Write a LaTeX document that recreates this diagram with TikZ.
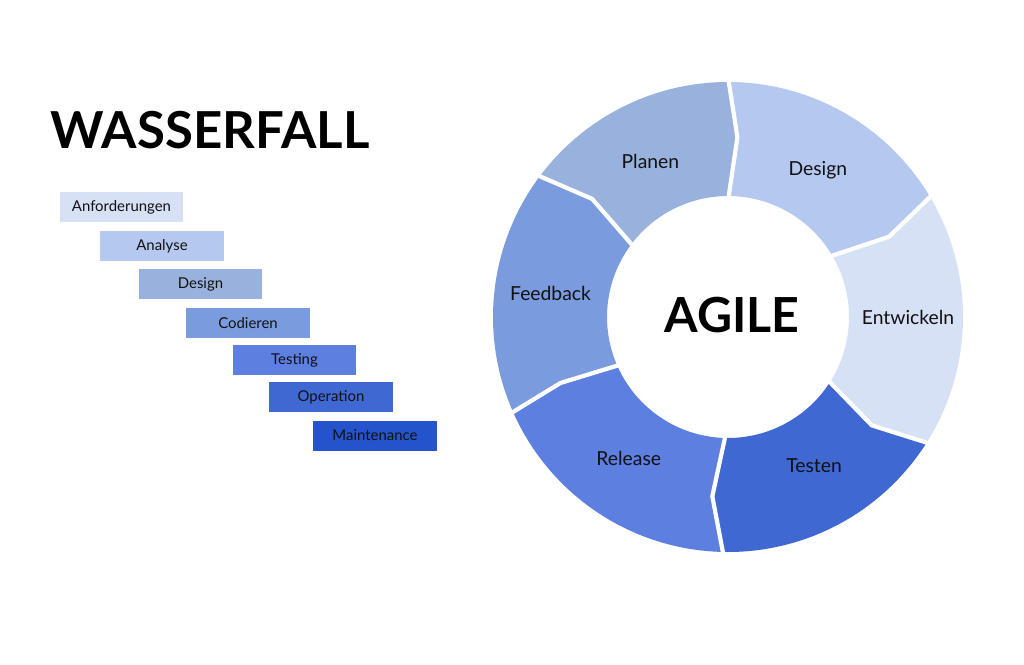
\documentclass[tikz,border=0pt]{standalone}
\usepackage{fontspec}
\setmainfont{Lato}
\definecolor{wfA}{HTML}{D6E1F6}
\definecolor{wfB}{HTML}{B4C8F0}
\definecolor{wfC}{HTML}{98B2DD}
\definecolor{wfD}{HTML}{7B9BDF}
\definecolor{wfE}{HTML}{5C7FE0}
\definecolor{wfF}{HTML}{3F68D3}
\definecolor{wfG}{HTML}{2453CC}
\definecolor{ink}{HTML}{111111}
\begin{document}
\begin{tikzpicture}[x=0.02cm,y=0.02cm,
  stage/.style={minimum width=2.47cm,minimum height=0.6cm,inner sep=0pt,text=ink,font=\fontsize{8.5}{10}\selectfont},
  phase/.style={text=ink,font=\fontsize{11}{13}\selectfont},
  gap/.style={white,line width=2.4pt,line join=miter}]
\useasboundingbox (0,0) rectangle (1024,664);
\fill[white] (0,0) rectangle (1024,664);
% waterfall
\node[text=black,font=\fontsize{29}{31}\selectfont\bfseries] (wf) at (210,534) {WASSERFALL};
\node[stage,fill=wfA] (anf) at (121.5,457) {Anforderungen};
\node[stage,fill=wfB] (ana) at (162,418) {Analyse};
\node[stage,fill=wfC] (des) at (200.5,380) {Design};
\node[stage,fill=wfD] (cod) at (248,341) {Codieren};
\node[stage,fill=wfE] (tst) at (294.5,304) {Testing};
\node[stage,fill=wfF] (ope) at (331,267) {Operation};
\node[stage,fill=wfG] (mnt) at (375,228.5) {Maintenance};
% agile ring
\begin{scope}[shift={(728,347)}]
\fill[wfB] (90:235) arc[start angle=90,end angle=31,radius=235] -- (26.5:180) -- (31:121) arc[start angle=31,end angle=90,radius=121] -- (87:180) -- cycle;
\fill[wfA] (31:235) arc[start angle=31,end angle=-32,radius=235] -- (-37:180) -- (-32:121) arc[start angle=-32,end angle=31,radius=121] -- (26.5:180) -- cycle;
\fill[wfF] (-32:235) arc[start angle=-32,end angle=-91,radius=235] -- (-95:180) -- (-91:121) arc[start angle=-91,end angle=-32,radius=121] -- (-37:180) -- cycle;
\fill[wfE] (-91:235) arc[start angle=-91,end angle=-156,radius=235] -- (-158.5:180) -- (-156:121) arc[start angle=-156,end angle=-91,radius=121] -- (-95:180) -- cycle;
\fill[wfD] (-156:235) arc[start angle=-156,end angle=-216.5,radius=235] -- (-221:180) -- (-216.5:121) arc[start angle=-216.5,end angle=-156,radius=121] -- (-158.5:180) -- cycle;
\fill[wfC] (143.5:235) arc[start angle=143.5,end angle=90,radius=235] -- (87:180) -- (90:121) arc[start angle=90,end angle=143.5,radius=121] -- (139:180) -- cycle;
% white gaps
\draw[gap] (90:240) -- (87:180) -- (90:116);
\draw[gap] (31:240) -- (26.5:180) -- (31:116);
\draw[gap] (-32:240) -- (-37:180) -- (-32:116);
\draw[gap] (-91:240) -- (-95:180) -- (-91:116);
\draw[gap] (-156:240) -- (-158.5:180) -- (-156:116);
\draw[gap] (143.5:240) -- (139:180) -- (143.5:116);
% labels
\node[text=black,font=\fontsize{27.5}{30}\selectfont\bfseries] (agile) at (4,2) {AGILE};
\node[phase] (plan) at (116.5:174) {Planen};
\node[phase] (desg) at (58.5:172) {Design};
\node[phase] (entw) at (0:180) {Entwickeln};
\node[phase] (test) at (-60:172) {Testen};
\node[phase] (rel) at (-125:173) {Release};
\node[phase] (feed) at (172.5:179) {Feedback};
\end{scope}
\end{tikzpicture}
\end{document}
